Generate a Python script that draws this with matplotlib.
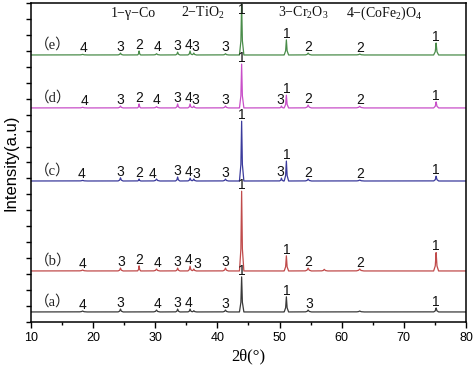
import numpy as np
import matplotlib
matplotlib.use("Agg")
import matplotlib.pyplot as plt
from matplotlib.ticker import MultipleLocator, NullFormatter

plt.rcParams['mathtext.fontset'] = 'custom'
plt.rcParams['mathtext.rm'] = 'Liberation Serif'
plt.rcParams['mathtext.it'] = 'Liberation Serif:italic'

# ---- data ----
peak_pos = [18.3, 24.4, 27.4, 30.2, 33.6, 35.6, 36.2, 41.3, 43.9, 50.3, 51.1, 54.6, 57.2, 62.9, 75.2]
peak_hw  = [0.6, 0.4, 0.25, 0.5, 0.35, 0.35, 0.4, 0.45, 0.35, 0.3, 0.35, 0.5, 0.5, 0.6, 0.4]

series_names = ['（a）', '（b）', '（c）', '（d）', '（e）']
offsets = [63, 320, 884, 1342, 1674]
heights_a = [6, 18, 0, 12, 18, 18, 8, 12, 220, 0, 95, 12, 0, 6, 25]
heights_b = [6, 18, 32, 12, 18, 30, 12, 18, 500, 0, 95, 18, 10, 12, 115]
heights_c = [4, 20, 12, 12, 25, 18, 12, 12, 375, 18, 125, 12, 0, 6, 30]
heights_d = [4, 12, 25, 8, 25, 25, 12, 12, 275, 12, 80, 18, 0, 10, 38]
heights_e = [4, 12, 25, 8, 18, 25, 12, 8, 320, 0, 95, 12, 0, 6, 75]
heights = [heights_a, heights_b, heights_c, heights_d, heights_e]

labels_a = [(18.3, '4'), (24.4, '3'), (30.3, '4'), (33.5, '3'), (35.3, '4'), (41.3, '3'),
            (43.9, '1'), (51.1, '1'), (54.8, '3'), (75.2, '1')]
labels_b = [(18.3, '4'), (24.5, '3'), (27.4, '2'), (30.3, '4'), (33.5, '3'), (35.3, '4'),
            (36.7, '3'), (41.3, '3'), (43.9, '1'), (51.1, '1'), (54.6, '2'), (63.0, '2'), (75.2, '1')]
labels_c = [(18.2, '4'), (24.4, '3'), (27.4, '2'), (29.6, '4'), (33.5, '3'), (35.4, '4'),
            (36.6, '3'), (41.2, '3'), (43.9, '1'), (50.2, '3'), (51.1, '1'), (54.6, '2'),
            (62.9, '2'), (75.2, '1')]
labels_d = [(18.6, '4'), (24.4, '3'), (27.4, '2'), (30.2, '4'), (33.5, '3'), (35.4, '4'),
            (36.4, '3'), (41.3, '3'), (43.9, '1'), (50.2, '3'), (51.1, '1'), (54.6, '2'),
            (62.9, '2'), (75.2, '1')]
labels_e = [(18.5, '4'), (24.4, '3'), (27.4, '2'), (30.3, '4'), (33.5, '3'), (35.4, '4'),
            (36.4, '3'), (41.3, '3'), (43.9, '1'), (51.1, '1'), (54.6, '2'), (62.9, '2'), (75.2, '1')]
peak_labels = [labels_a, labels_b, labels_c, labels_d, labels_e]

colors = ['#3a3a3a', '#c04b4b', '#3b3b9c', '#c84fc8', '#4a8c4a']

phase_legend = ['1−γ−Co', '2−TiO$_2$', '3−Cr$_2$O$_3$', '4−(CoFe$_2$)O$_4$']
phase_x = [26.4, 37.7, 53.8, 66.8]

# ---- figure ----
fig = plt.figure(figsize=(4.74, 3.72), dpi=100)
ax = fig.add_axes([0.0654, 0.1344, 0.9176, 0.8576])

x = np.linspace(10, 80, 3501)

def profile(xg, pos, hw, hts):
    y = np.zeros_like(xg)
    for p, w, h in zip(pos, hw, hts):
        if h <= 0:
            continue
        kx = [p - w, p - w / 3, p, p + w / 3, p + w]
        ky = [0, 0.28 * h, h, 0.28 * h, 0]
        y += np.interp(xg, kx, ky, left=0, right=0)
    return y

for i in range(5):
    y = profile(x, peak_pos, peak_hw, heights[i]) + offsets[i]
    ax.plot(x, y, color=colors[i], lw=0.9)
    ax.text(10.6, offsets[i] + 40, series_names[i], fontsize=10.5,
            family=['Liberation Serif', 'Noto Sans CJK SC'], ha='left', va='baseline',
            color='#222222')
    for lx, lt in peak_labels[i]:
        local = profile(np.linspace(lx - 0.3, lx + 0.3, 13), peak_pos, peak_hw, heights[i]).max()
        ly = min(offsets[i] + local + 14, 1928)
        ax.text(lx, ly, lt, fontsize=10,
                family='Liberation Sans', ha='center', va='baseline', color='#111111')

for px, t in zip(phase_x, phase_legend):
    ax.text(px, 1935, t, fontsize=10, family='Liberation Serif', ha='center',
            va='center', color='#111111')

ax.set_xlim(10, 80)
ax.set_ylim(0, 2000)
ax.xaxis.set_major_locator(MultipleLocator(10))
ax.xaxis.set_minor_locator(MultipleLocator(5))
ax.yaxis.set_major_locator(MultipleLocator(100))
ax.yaxis.set_major_formatter(NullFormatter())
ax.tick_params(axis='x', which='major', direction='out', length=4, width=1,
               labelsize=9, labelfontfamily='Liberation Sans')
ax.tick_params(axis='x', which='minor', direction='out', length=2.5, width=1)
ax.tick_params(axis='y', which='major', direction='out', length=3.5, width=1)
for s in ax.spines.values():
    s.set_linewidth(1.1)

ax.set_xlabel('2θ(°)', fontsize=12, family='Liberation Serif', labelpad=3)
ax.set_ylabel('Intensity(a.u)', fontsize=12, family='Liberation Sans', labelpad=2)

fig.savefig('out.png', dpi=100)
